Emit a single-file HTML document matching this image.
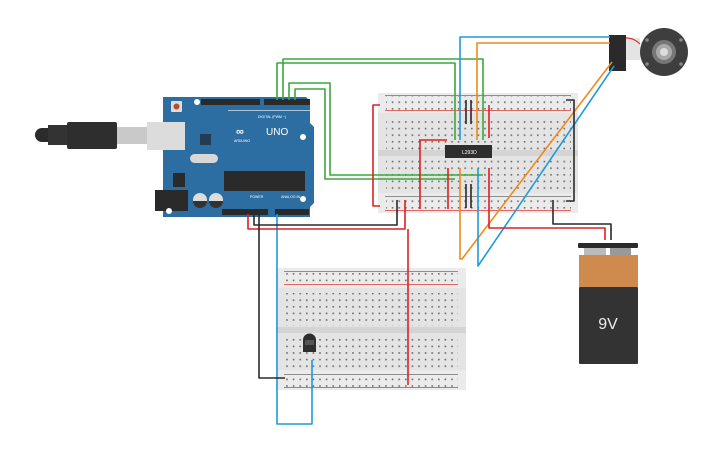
<!DOCTYPE html>
<html><head><meta charset="utf-8"><style>
html,body{margin:0;padding:0;background:#fff;width:725px;height:453px;overflow:hidden}
svg{display:block}
text{font-family:"Liberation Sans",sans-serif}
</style></head><body>
<svg width="725" height="453" viewBox="0 0 725 453" xmlns="http://www.w3.org/2000/svg">
<defs>
<pattern id="dots" x="0" y="0" width="6.6" height="6.6" patternUnits="userSpaceOnUse">
<rect x="2.4" y="2.4" width="1.6" height="1.6" fill="#6a6a6a"/>
</pattern>
</defs>

<!-- USB cable -->
<rect x="35" y="128" width="20" height="14" rx="7" fill="#2b2b2b"/>
<rect x="48" y="125" width="20" height="20" fill="#333"/>
<rect x="67" y="122" width="50" height="27" rx="2" fill="#2e2e2e"/>
<rect x="117" y="127" width="31" height="17" fill="#c9c9c9"/>

<!-- Arduino -->
<path d="M163,97 H306 L310,101 V123 L314,127 V203 L310,207 V217 H163 Z" fill="#2d6ea2"/>
<rect x="147" y="122" width="38" height="28" fill="#dcdcdc"/>
<rect x="155" y="190" width="33" height="21" fill="#2a2a2a"/>
<rect x="171" y="101" width="11" height="11" rx="1" fill="#ddd"/>
<circle cx="176.5" cy="106.5" r="3" fill="#b84a2e"/>
<rect x="201" y="99" width="59" height="6" fill="#2a2a2a"/>
<rect x="264" y="99" width="46" height="6" fill="#2a2a2a"/>
<rect x="222" y="209" width="46" height="6" fill="#2a2a2a"/>
<rect x="275" y="209" width="34" height="6" fill="#2a2a2a"/>
<rect x="224" y="171" width="81" height="20" fill="#2a2a2a"/>
<rect x="200" y="134" width="11" height="11" fill="#243b52"/>
<rect x="190" y="154" width="28" height="9" rx="4.5" fill="#d8d8d8"/>
<rect x="173" y="173" width="12" height="14" fill="#2a2a2a"/>
<circle cx="200" cy="200" r="7" fill="#ddd"/><circle cx="216" cy="200" r="7" fill="#ddd"/>
<path d="M193,201 a7,7 0 0 0 14,0 z" fill="#333"/><path d="M209,201 a7,7 0 0 0 14,0 z" fill="#333"/>
<circle cx="197" cy="102" r="3" fill="#fff"/><circle cx="303" cy="137" r="3" fill="#fff"/>
<circle cx="303" cy="199" r="3" fill="#fff"/><circle cx="169" cy="211" r="3" fill="#fff"/>
<text x="236" y="135" font-size="11" fill="#fff" font-weight="bold">∞</text>
<text x="266" y="135" font-size="10" fill="#fff">UNO</text>
<text x="234" y="142" font-size="3.5" fill="#fff">ARDUINO</text>
<text x="258" y="118" font-size="3.5" fill="#fff">DIGITAL (PWM ~)</text>
<text x="250" y="198" font-size="3.5" fill="#fff">POWER</text>
<text x="281" y="198" font-size="3.5" fill="#fff">ANALOG IN</text>
<rect x="228" y="110" width="82" height="0.6" fill="#fff"/>

<!-- Breadboard 1 -->
<rect x="378" y="93" width="200" height="120" fill="#e4e4e4"/>
<rect x="378" y="93" width="200" height="20" fill="#ebebeb"/>
<rect x="378" y="193" width="200" height="20" fill="#ebebeb"/>
<rect x="378" y="150" width="200" height="6" fill="#d4d4d4"/>
<rect x="385" y="95" width="186" height="0.8" fill="#777"/>
<rect x="385" y="110" width="186" height="0.8" fill="#d44"/>
<rect x="385" y="196" width="186" height="0.8" fill="#777"/>
<rect x="385" y="210" width="186" height="0.8" fill="#d44"/>
<rect x="386" y="96" width="185" height="14" fill="url(#dots)"/>
<rect x="386" y="117" width="185" height="33" fill="url(#dots)"/>
<rect x="386" y="157" width="185" height="33" fill="url(#dots)"/>
<rect x="386" y="196" width="185" height="14" fill="url(#dots)"/>
<rect x="445" y="145" width="47" height="13" fill="#2e2e2e"/>
<text x="462" y="154" font-size="5" fill="#fff">L293D</text>

<!-- Breadboard 2 -->
<rect x="276" y="268" width="190" height="122" fill="#e4e4e4"/>
<rect x="276" y="268" width="190" height="20" fill="#ebebeb"/>
<rect x="276" y="370" width="190" height="20" fill="#ebebeb"/>
<rect x="276" y="327" width="190" height="6" fill="#d4d4d4"/>
<rect x="284" y="271" width="174" height="0.8" fill="#777"/>
<rect x="284" y="284" width="174" height="0.8" fill="#d44"/>
<rect x="284" y="374" width="174" height="0.8" fill="#777"/>
<rect x="284" y="387" width="174" height="0.8" fill="#d44"/>
<rect x="284" y="273" width="174" height="13" fill="url(#dots)"/>
<rect x="284" y="293" width="174" height="33" fill="url(#dots)"/>
<rect x="284" y="335" width="174" height="33" fill="url(#dots)"/>
<rect x="284" y="375" width="174" height="13" fill="url(#dots)"/>
<path d="M303,352 V340 a6.5,6.5 0 0 1 13,0 V352 Z" fill="#2e2e2e"/>
<rect x="305" y="340" width="9" height="5" fill="#555"/>

<!-- Battery -->
<rect x="578" y="243" width="60" height="5" rx="1" fill="#2a2a2a"/>
<rect x="584" y="248" width="22" height="8" fill="#bbb"/>
<rect x="610" y="248" width="21" height="8" fill="#999"/>
<rect x="579" y="255" width="59" height="32" fill="#cf8a4e"/>
<rect x="579" y="287" width="59" height="77" rx="1" fill="#333"/>
<text x="608" y="329" font-size="16" fill="#eee" text-anchor="middle">9V</text>

<!-- Motor -->
<rect x="626" y="38" width="14" height="22" fill="#e4e4e4"/>
<path d="M626,38 Q634,38 640,44" stroke="#d33" stroke-width="1.2" fill="none"/>
<circle cx="664" cy="52" r="24" fill="#3e3e3e"/>
<circle cx="664" cy="52" r="12" fill="#777"/>
<circle cx="664" cy="52" r="8" fill="#aaa"/>
<circle cx="664" cy="52" r="4" fill="#ddd"/>
<circle cx="647" cy="40" r="1.8" fill="#888"/><circle cx="681" cy="40" r="1.8" fill="#888"/>
<circle cx="647" cy="64" r="1.8" fill="#888"/><circle cx="681" cy="64" r="1.8" fill="#888"/>
<rect x="609" y="35" width="17" height="36" fill="#2a2a2a"/>

<g fill="none" stroke-width="1.6" stroke-linejoin="round">
<!-- green -->
<path d="M277,100 V63 H455 V140" stroke="#3aa83a"/>
<path d="M283,100 V59 H483 V140" stroke="#3aa83a"/>
<path d="M289,100 V83 H330 V175 H483" stroke="#3aa83a"/>
<path d="M295,100 V89 H325 V179 H455" stroke="#3aa83a"/>
<!-- blue/orange -->
<path d="M610,37 H460 V140" stroke="#1e9bd7"/>
<path d="M610,43 H477 V140" stroke="#f08a1a"/>
<path d="M612,62 L462,259 H460 V168" stroke="#f08a1a"/>
<path d="M614,66 L478,266 V168" stroke="#1e9bd7"/>
<path d="M277,214 V424 H312 V360" stroke="#1e9bd7"/>
<!-- power -->
<path d="M248,214 V229 H405 V200" stroke="#e02020"/>
<path d="M254,214 V225 H397 V200" stroke="#2a2a2a"/>
<path d="M259,214 V378 H285" stroke="#2a2a2a"/>
<path d="M408,229 V385" stroke="#e02020"/>
<path d="M380,105 H373 V206 H380" stroke="#e02020"/>
<path d="M566,100 H574 V201 H566" stroke="#2a2a2a"/>
<path d="M605,240 V228 H489 V168" stroke="#e02020"/>
<path d="M611,240 V224 H553 V200" stroke="#2a2a2a"/>
<!-- jumpers -->
<path d="M466,100 V124 M471,100 V124 M466,184 V208 M471,184 V208" stroke="#2a2a2a"/>
<path d="M489,105 V138" stroke="#e02020"/>
<path d="M419,140 H447 M420,140 V209 M448,168 V209" stroke="#e02020"/>
</g>
</svg>
</body></html>
